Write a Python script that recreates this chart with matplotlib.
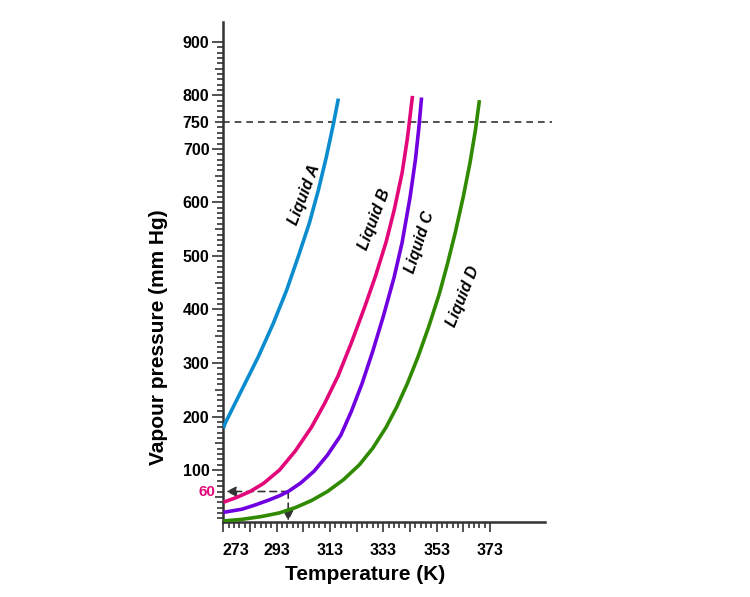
from matplotlib import pyplot as plt
from matplotlib import transforms
import numpy as np

plt.rcParams['font.family'] = ['Liberation Sans', 'DejaVu Sans']

# temperature (K) and vapour pressure (mm Hg)
temp_a = [273, 273.6, 279.9, 286.1, 291.7, 296.7, 301.0, 305.2, 308.6, 311.6, 314.3, 316.1]
pres_a = [178, 187, 250, 312, 374, 436, 498, 561, 623, 685, 748, 794]

temp_b = [273, 278, 283, 288, 294, 300, 306, 311, 316, 321, 326, 330, 334, 337, 340, 342, 343.9]
pres_b = [40, 49, 60, 75, 100, 136, 180, 225, 276, 338, 405, 462, 526, 585, 655, 720, 799]

temp_c = [273, 280, 285, 290, 294, 297.3, 302, 307, 312, 317, 321, 325, 329, 333, 337, 340,
          343, 345, 346.3, 347.3]
pres_c = [21, 27, 35, 44, 52, 60, 76, 98, 128, 165, 210, 262, 322, 388, 460, 525,
          610, 680, 740, 796]

temp_d = [273, 280, 287, 294, 300, 306, 312, 318, 324, 329, 334, 338, 342, 346, 350, 354,
          357, 360, 363, 365.5, 367.5, 369]
pres_d = [5, 8, 13, 20, 30, 43, 60, 82, 110, 141, 180, 218, 262, 312, 368, 430,
          485, 545, 612, 675, 735, 791]

names = ["Liquid A", "Liquid B", "Liquid C", "Liquid D"]
colors = ["#0a8ccf", "#e2087a", "#7000e0", "#2f8a00"]

x_labels = [273, 293, 313, 333, 353, 373]
y_labels = [100, 200, 300, 400, 500, 600, 700, 750, 800, 900]
boiling_line = 750
marked_temp = 297.3
marked_pres = 60

AXIS_COLOR = "#333333"


def draw_curves(ax):
    series = [(temp_a, pres_a), (temp_b, pres_b), (temp_c, pres_c), (temp_d, pres_d)]
    for (t, p), c in zip(series, colors):
        ax.plot(t, p, color=c, lw=2.6, solid_capstyle="butt",
                solid_joinstyle="round", zorder=3)

    # curve labels, placed next to each line
    label_pos = [(303.3, 614), (329.5, 568), (346.5, 526), (362.7, 425)]
    label_rot = [69, 69, 72, 68]
    for name, (x, y), r in zip(names, label_pos, label_rot):
        ax.text(x, y, name, rotation=r, ha="center", va="center",
                fontsize=11.5, fontweight="bold", fontstyle="italic")


def draw_guides(ax):
    ax.plot([273, 396.3], [boiling_line, boiling_line], ls=(0, (4, 3)),
            color=AXIS_COLOR, lw=1.2, clip_on=False, zorder=2)

    arrow = dict(arrowstyle="-|>,head_length=0.6,head_width=0.3",
                 color=AXIS_COLOR, lw=1.2, linestyle=(0, (4, 3)),
                 shrinkA=0, shrinkB=0)
    ax.annotate("", xy=(274.0, marked_pres), xytext=(marked_temp, marked_pres),
                arrowprops=arrow, zorder=2)
    ax.annotate("", xy=(marked_temp, 5.0), xytext=(marked_temp, marked_pres),
                arrowprops=arrow, zorder=2)
    ax.text(-0.025, marked_pres, str(marked_pres), transform=ax.get_yaxis_transform(),
            ha="right", va="center", color=colors[1], fontsize=11, fontweight="bold")


def setup_axes(ax):
    ax.set_xlim(273, 393.6)
    ax.set_ylim(3, 937)

    for side in ["top", "right"]:
        ax.spines[side].set_visible(False)
    for side in ["left", "bottom"]:
        ax.spines[side].set_color(AXIS_COLOR)
        ax.spines[side].set_linewidth(1.8)

    ax.set_xticks(np.arange(273, 374, 10))
    ax.set_xticklabels([str(v) if v in x_labels else "" for v in range(273, 374, 10)])
    ax.set_xticks(np.arange(273, 374, 2), minor=True)

    y_major = np.arange(50, 901, 50)
    ax.set_yticks(y_major)
    ax.set_yticklabels([str(v) if v in y_labels else "" for v in y_major])
    ax.set_yticks(np.arange(10, 901, 10), minor=True)

    ax.tick_params(axis="both", which="both", direction="out", color=AXIS_COLOR,
                   width=1.2, labelsize=11.5)
    ax.tick_params(axis="x", which="major", length=7, pad=8)
    ax.tick_params(axis="x", which="minor", length=4)
    ax.tick_params(axis="y", which="major", length=8, pad=2)
    ax.tick_params(axis="y", which="minor", length=4)

    for tick, v in zip(ax.yaxis.get_major_ticks(), y_major):
        if v % 100 != 0:
            tick.tick1line.set_markersize(6)

    for lab in ax.get_xticklabels() + ax.get_yticklabels():
        lab.set_fontweight("bold")
    # the first label sits to the right of the spine
    first = ax.get_xticklabels()[0]
    first.set_transform(first.get_transform() +
                        transforms.ScaledTranslation(0.12, 0, ax.figure.dpi_scale_trans))


def main():
    fig = plt.figure(figsize=(7.5, 5.97), dpi=100)
    ax = fig.add_axes([0.2979, 0.1256, 0.4288, 0.8375])
    setup_axes(ax)
    draw_curves(ax)
    draw_guides(ax)

    fig.text(365 / 750, 1 - 574 / 597, "Temperature (K)", ha="center", va="center",
             fontsize=15, fontweight="bold")
    fig.text(158 / 750, 1 - 337 / 597, "Vapour pressure (mm Hg)", ha="center",
             va="center", rotation=90, fontsize=15, fontweight="bold")

    fig.savefig("out.png", dpi=100)


if __name__ == "__main__":
    main()
